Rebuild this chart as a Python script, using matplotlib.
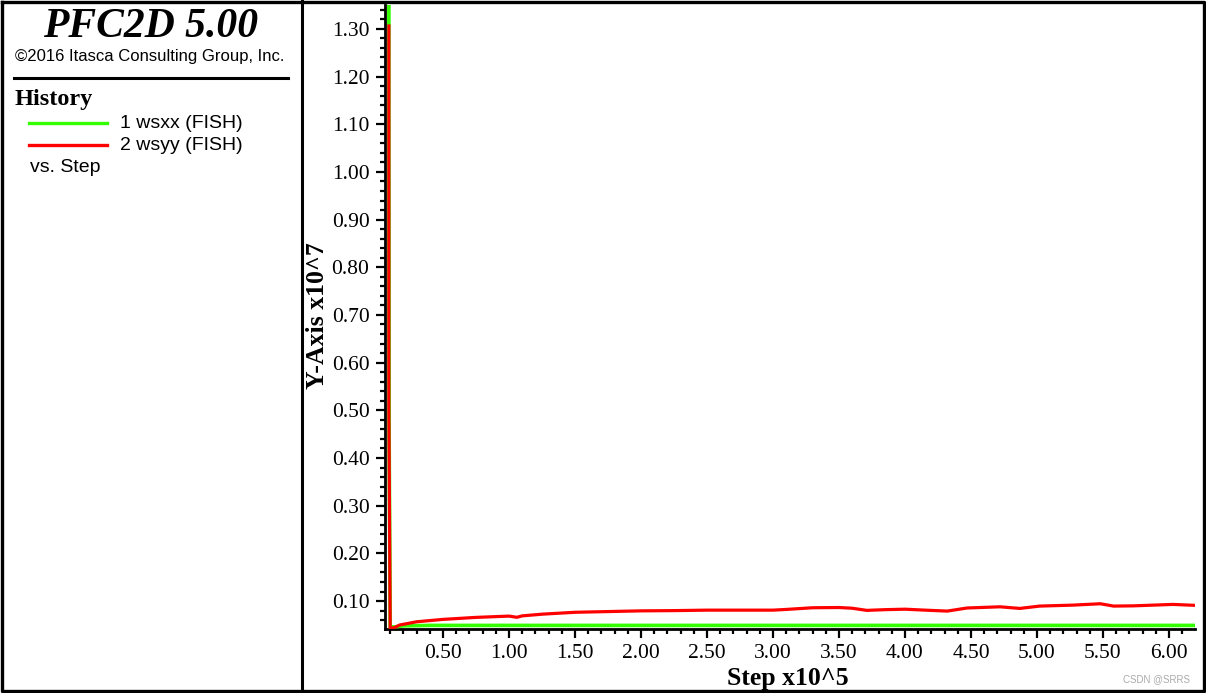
import matplotlib
matplotlib.use("Agg")
import matplotlib.pyplot as plt
from matplotlib.ticker import MultipleLocator, FormatStrFormatter
from matplotlib.lines import Line2D

W, H = 1206, 693

# ---- data (Step in units of 1e5, values in units of 1e7) ----
steps_wsxx = [0.09, 0.09, 0.092, 0.10, 0.14, 0.2, 0.4, 6.2]
wsxx = [1.348, 1.12, 0.45, 0.046, 0.046, 0.048, 0.049, 0.049]

steps_wsyy = [0.09, 0.09, 0.10, 0.13, 0.17, 0.3, 0.5, 0.75, 1.0, 1.06, 1.1,
              1.26, 1.5, 1.75, 2.0, 2.25, 2.5, 2.75, 3.0, 3.1, 3.3, 3.5, 3.6,
              3.71, 3.85, 4.0, 4.15, 4.32, 4.47, 4.72, 4.87, 5.02, 5.27, 5.48,
              5.58, 5.73, 6.03, 6.2]
wsyy = [1.306, 0.5, 0.043, 0.044, 0.0497, 0.0566, 0.0616, 0.0658, 0.0685,
        0.066, 0.069, 0.0727, 0.0765, 0.078, 0.0795, 0.080, 0.081, 0.081,
        0.081, 0.0825, 0.086, 0.0865, 0.085, 0.0805, 0.082, 0.083, 0.081,
        0.079, 0.0855, 0.088, 0.0846, 0.0895, 0.0915, 0.0944, 0.0895, 0.090,
        0.093, 0.091]

series_labels = ["1 wsxx (FISH)", "2 wsyy (FISH)"]
series_colors = ["#33ff00", "#ff0000"]

SERIF = "Liberation Serif"
SANS = "Liberation Sans"

fig = plt.figure(figsize=(W / 100, H / 100), dpi=100)


def fx(px):
    return px / W


def fy(py):
    return 1 - py / H


# main axes
ax = fig.add_axes([fx(385), fy(628.5), fx(1195) - fx(385), fy(5) - fy(628.5)])
ax.plot(steps_wsxx, wsxx, color=series_colors[0], lw=2.6, zorder=3)
ax.plot(steps_wsyy, wsyy, color=series_colors[1], lw=2.3, zorder=4)
ax.set_xlim(0.0606, 6.197)
ax.set_ylim(0.0425, 1.350)

for s in ["top", "right"]:
    ax.spines[s].set_visible(False)
for s in ["left", "bottom"]:
    ax.spines[s].set_linewidth(2.0)

ax.xaxis.set_major_locator(MultipleLocator(0.5))
ax.xaxis.set_minor_locator(MultipleLocator(0.1))
ax.yaxis.set_major_locator(MultipleLocator(0.1))
ax.yaxis.set_minor_locator(MultipleLocator(0.02))
ax.xaxis.set_major_formatter(FormatStrFormatter("%.2f"))
ax.yaxis.set_major_formatter(FormatStrFormatter("%.2f"))
ax.tick_params(which="major", length=6.2, width=1.6, direction="out", labelsize=15.5, pad=5)
ax.tick_params(which="minor", length=3.3, width=1.6, direction="out")
for lab in ax.get_xticklabels() + ax.get_yticklabels():
    lab.set_fontfamily(SERIF)

fig.text(fx(318), fy(316), "Y-Axis x10^7", rotation=90, ha="center", va="center",
         fontfamily=SERIF, fontweight="bold", fontsize=18.5)
fig.text(fx(788), fy(678), "Step x10^5", ha="center", va="center",
         fontfamily=SERIF, fontweight="bold", fontsize=18.5)

# left panel
fig.text(fx(151), fy(27), "PFC2D 5.00", ha="center", va="center",
         fontfamily=SERIF, fontweight="bold", fontstyle="italic", fontsize=30)
fig.text(fx(150), fy(57), "\u00a92016 Itasca Consulting Group, Inc.", ha="center", va="center",
         fontfamily=SANS, fontsize=12)
fig.add_artist(Line2D([fx(14), fx(288)], [fy(78), fy(78)], color="black", lw=2.2))
fig.text(fx(15), fy(100), "History", ha="left", va="center",
         fontfamily=SERIF, fontweight="bold", fontsize=17.5)
for i, (lab, col) in enumerate(zip(series_labels, series_colors)):
    yy = 123 + 22 * i
    fig.add_artist(Line2D([fx(29), fx(107)], [fy(yy), fy(yy)], color=col, lw=2.4))
    fig.text(fx(120), fy(yy), lab, ha="left", va="center", fontfamily=SANS, fontsize=14)
fig.text(fx(30), fy(167), "vs. Step", ha="left", va="center", fontfamily=SANS, fontsize=14)

# divider and border
fig.add_artist(Line2D([fx(301.5), fx(301.5)], [fy(0), fy(H)], color="black", lw=2.2))
fig.add_artist(Line2D([fx(1.5), fx(1204), fx(1204), fx(1.5), fx(1.5)],
                      [fy(1.5), fy(1.5), fy(691), fy(691), fy(1.5)], color="black", lw=2.4))

fig.text(fx(1190), fy(679), "CSDN @SRRS", ha="right", va="center", fontfamily=SANS,
         fontsize=7, color="#aaaaaa")

fig.savefig("out.png", dpi=100)
